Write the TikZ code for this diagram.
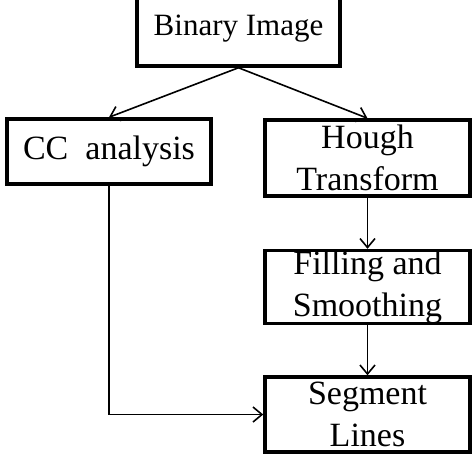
\documentclass[tikz,border=0pt]{standalone}
\usepackage{fontspec}
\setmainfont{Liberation Serif}
\usetikzlibrary{arrows.meta}
\begin{document}
\begin{tikzpicture}[x=1pt,y=-1pt]

      \useasboundingbox (0,0) rectangle (474,474);

      \begin{scope}[every node/.style={draw,line width=3.5pt,inner sep=0pt,align=center,
          font=\fontsize{34}{42}\selectfont}]
        \node[minimum width=203pt,minimum height=74pt,font=\fontsize{31}{38}\selectfont]
          (bin)    at (238.5,29)  {Binary Image};
        \node[minimum width=204pt,minimum height=65pt] (cc)     at (109,151.5)  {CC~~analysis};
        \node[minimum width=205pt,minimum height=76pt] (hough)  at (367.5,158)  {Hough\\Transform};
        \node[minimum width=205pt,minimum height=72pt] (fill)   at (367.5,287)  {Filling and\\Smoothing};
        \node[minimum width=205pt,minimum height=75pt] (seg)    at (367.5,414.5)  {Segment\\Lines};
      \end{scope}

      \begin{scope}[every edge/.style={draw,line width=1.6pt,-{Straight Barb[length=9pt,width=15pt]}}]
        \path (bin.south)   edge (cc.north);
        \path (bin.south)   edge (hough.north);
        \path (hough.south) edge (fill.north);
        \path (fill.south)  edge (seg.north);
      \end{scope}
      \draw[line width=1.6pt,-{Straight Barb[length=9pt,width=15pt]}] (cc.south) |- (seg.west);

    \end{tikzpicture}
\end{document}
